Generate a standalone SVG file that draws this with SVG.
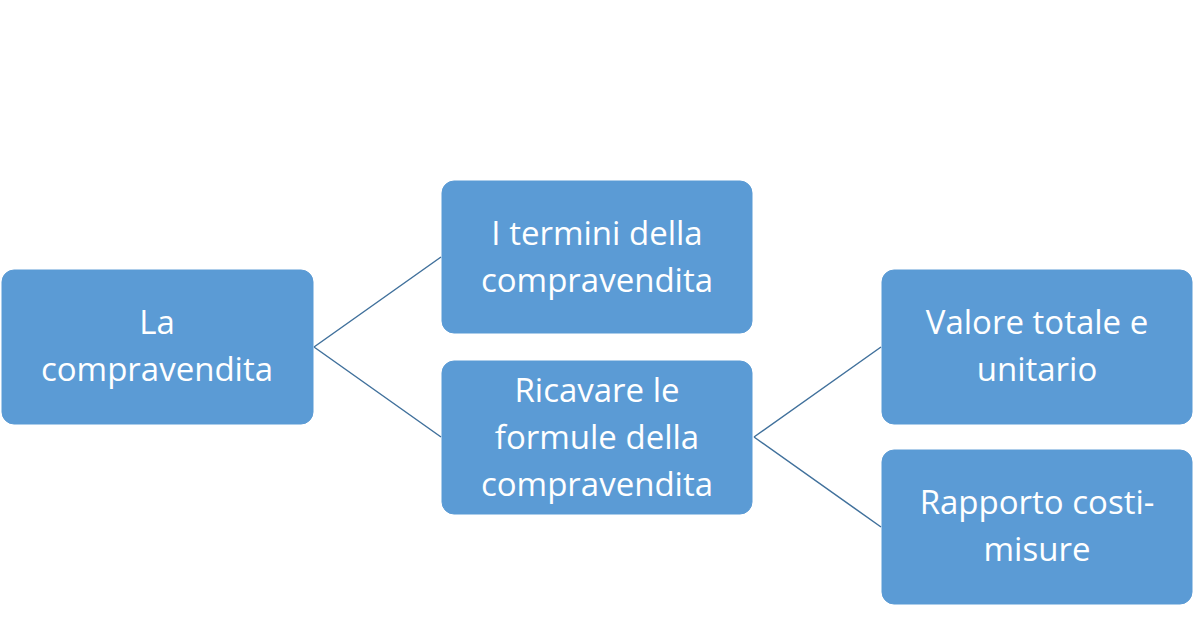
<svg xmlns="http://www.w3.org/2000/svg" width="1200" height="630" viewBox="0 0 1200 630">
<style>
.n{fill:#5b9bd5;stroke:#5b9bd5;}
.t{font-family:"Open Sans","Liberation Sans",sans-serif;font-size:33px;fill:#fff;text-anchor:middle;}
.c{stroke:#41719c;stroke-width:1.5;fill:none;}
</style>
<rect width="1200" height="630" fill="#fff"/>
<g id="connectors">
<path class="c" d="M314 347 L441 257 M314 347 L441 437 M754 437 L881 347 M754 437 L881 527"/>
</g>
<g id="n1"><rect class="n" x="2" y="270" width="311" height="154" rx="12"/>
<text class="t" x="157" y="334">La</text><text class="t" x="157" y="381">compravendita</text></g>
<g id="n2"><rect class="n" x="442" y="181" width="310" height="152" rx="12"/>
<text class="t" x="597" y="245">I termini della</text><text class="t" x="597" y="292">compravendita</text></g>
<g id="n3"><rect class="n" x="442" y="361" width="310" height="153" rx="12"/>
<text class="t" x="597" y="402">Ricavare le</text><text class="t" x="597" y="449">formule della</text><text class="t" x="597" y="496">compravendita</text></g>
<g id="n4"><rect class="n" x="882" y="270" width="310" height="154" rx="12"/>
<text class="t" x="1037" y="334">Valore totale e</text><text class="t" x="1037" y="381">unitario</text></g>
<g id="n5"><rect class="n" x="882" y="450" width="310" height="154" rx="12"/>
<text class="t" x="1037" y="514">Rapporto costi-</text><text class="t" x="1037" y="561">misure</text></g>
</svg>
